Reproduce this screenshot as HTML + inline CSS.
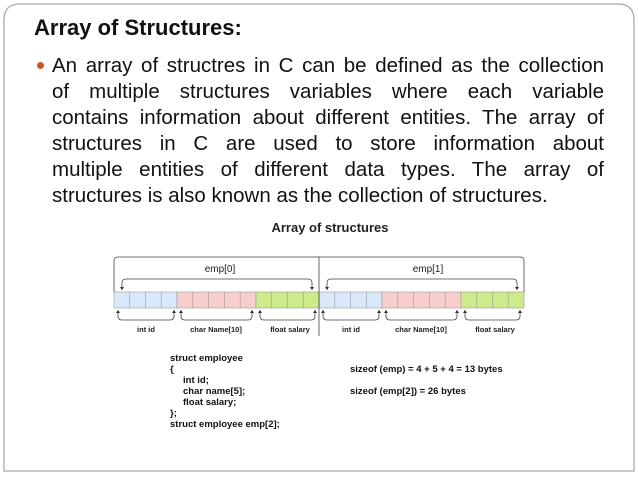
<!DOCTYPE html>
<html><head><meta charset="utf-8"><style>
body{margin:0;width:638px;height:478px;background:#fff;position:relative;overflow:hidden;font-family:"Liberation Sans",Arial,sans-serif;}
.t{position:absolute;left:34px;top:15px;font-size:22px;font-weight:bold;color:#111;}
.l{position:absolute;left:52px;width:552px;font-size:20.5px;color:#111;white-space:nowrap;text-align:justify;text-align-last:justify;line-height:24px;}
.b{position:absolute;left:37px;top:62px;width:7px;height:7px;border-radius:50%;background:#d0561c;}
svg{position:absolute;left:0;top:0;}
</style></head><body>
<svg width="638" height="478" viewBox="0 0 638 478">
<path d="M4,471 L4,20 Q4,4 20,4 L618,4 Q634,4 634,20 L634,471 Z" fill="none" stroke="#aaa" stroke-width="1.3"/>
<g stroke="#999" stroke-width="0.6">
<rect x="114" y="292" width="63" height="16" fill="#dae8fc"/><rect x="177" y="292" width="79" height="16" fill="#f8cecc"/><rect x="256" y="292" width="63" height="16" fill="#cdeb8b"/>
<rect x="319" y="292" width="63" height="16" fill="#dae8fc"/><rect x="382" y="292" width="79" height="16" fill="#f8cecc"/><rect x="461" y="292" width="63" height="16" fill="#cdeb8b"/>
<path d="M129.75 292V308M145.5 292V308M161.25 292V308M192.8 292V308M208.6 292V308M224.4 292V308M240.2 292V308M271.75 292V308M287.5 292V308M303.25 292V308M334.75 292V308M350.5 292V308M366.25 292V308M397.8 292V308M413.6 292V308M429.4 292V308M445.2 292V308M476.75 292V308M492.5 292V308M508.25 292V308"/>
</g>
<g fill="none" stroke="#444" stroke-width="0.8">
<path d="M114,292 V261 Q114,257 118,257 H520 Q524,257 524,261 V292"/>
<line x1="319" y1="257" x2="319" y2="336"/>
<path d="M122,290 V283 Q122,279 126,279 H308 Q312,279 312,283 V290"/>
<path d="M327,290 V283 Q327,279 331,279 H513 Q517,279 517,283 V290"/>
<path d="M118,310 V316 Q118,320 122,320 H170 Q174,320 174,316 V310"/>
<path d="M181,310 V316 Q181,320 185,320 H248 Q252,320 252,316 V310"/>
<path d="M260,310 V316 Q260,320 264,320 H311 Q315,320 315,316 V310"/>
<path d="M323,310 V316 Q323,320 327,320 H375 Q379,320 379,316 V310"/>
<path d="M386,310 V316 Q386,320 390,320 H453 Q457,320 457,316 V310"/>
<path d="M465,310 V316 Q465,320 469,320 H516 Q520,320 520,316 V310"/>
</g>
<g fill="#333">
<path d="M120,287 h4 l-2,3z M310,287 h4 l-2,3z M325,287 h4 l-2,3z M515,287 h4 l-2,3z"/>
<path d="M116,313 h4 l-2,-3z M172,313 h4 l-2,-3z M179,313 h4 l-2,-3z M250,313 h4 l-2,-3z M258,313 h4 l-2,-3z M313,313 h4 l-2,-3z M321,313 h4 l-2,-3z M377,313 h4 l-2,-3z M384,313 h4 l-2,-3z M455,313 h4 l-2,-3z M463,313 h4 l-2,-3z M518,313 h4 l-2,-3z"/>
</g>
<g font-family="Liberation Sans, Arial, sans-serif" fill="#222" text-anchor="middle">
<text x="330" y="232" font-size="13" font-weight="bold">Array of structures</text>
<text x="220" y="272" font-size="10">emp[0]</text>
<text x="428" y="272" font-size="10">emp[1]</text>
<g font-size="7.5" font-weight="bold">
<text x="146" y="332">int id</text><text x="216" y="332">char Name[10]</text><text x="290" y="332">float salary</text>
<text x="351" y="332">int id</text><text x="421" y="332">char Name[10]</text><text x="495" y="332">float salary</text>
</g>
</g>
<g font-family="Liberation Sans, Arial, sans-serif" fill="#111" font-size="9.5" font-weight="bold">
<text x="170" y="361">struct employee</text>
<text x="170" y="372">{</text>
<text x="183" y="383">int id;</text>
<text x="183" y="394">char name[5];</text>
<text x="183" y="405">float salary;</text>
<text x="170" y="416">};</text>
<text x="170" y="427">struct employee emp[2];</text>
<text x="350" y="372">sizeof (emp) = 4 + 5 + 4 = 13 bytes</text>
<text x="350" y="394">sizeof (emp[2]) = 26 bytes</text>
</g>
</svg>
<div class="t">Array of Structures:</div>
<div class="b"></div>
<div class="l" style="top:54px">An array of structres in C can be defined as the collection</div>
<div class="l" style="top:80px">of multiple structures variables where each variable</div>
<div class="l" style="top:106px">contains information about different entities. The array of</div>
<div class="l" style="top:132px">structures in C are used to store information about</div>
<div class="l" style="top:158px">multiple entities of different data types. The array of</div>
<div class="l" style="top:184px;text-align-last:left">structures is also known as the collection of structures.</div>
</body></html>
